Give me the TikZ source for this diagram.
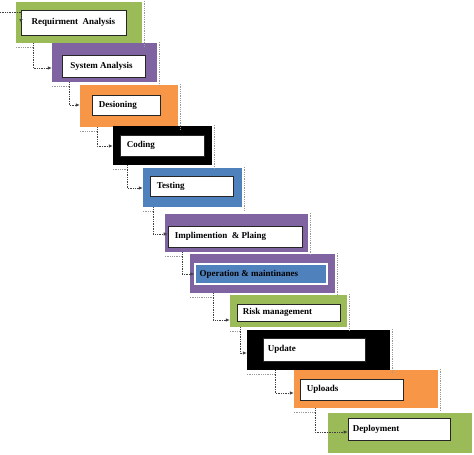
\documentclass[tikz,border=0pt]{standalone}
\usepackage{fontspec}
\setmainfont{Liberation Serif}
\usetikzlibrary{arrows.meta}
\definecolor{cgreen}{HTML}{9BBB59}
\definecolor{cpurple}{HTML}{8064A2}
\definecolor{corange}{HTML}{F79646}
\definecolor{cblue}{HTML}{4F81BD}
\definecolor{cshadow}{HTML}{9A9A9A}
\definecolor{cline}{HTML}{404040}
\tikzset{
  outerbox/.style={rectangle, inner sep=0pt, draw=none},
  innerbox/.style={rectangle, inner sep=0pt, fill=white, draw=black!85, line width=0.6pt},
  bluebox/.style={rectangle, inner sep=0pt, fill=cblue, draw=white, line width=1.2pt},
  lbl/.style={font=\fontsize{9}{10}\selectfont\bfseries, inner sep=0pt, text=black},
  conn/.style={draw=cline, densely dotted, line width=0.7pt, -{Latex[length=4pt,width=3.5pt]}},
  shade/.style={draw=cshadow, densely dotted, line width=0.8pt},
}
\begin{document}
\begin{tikzpicture}[x=1pt,y=-1pt]
\useasboundingbox (0,0) rectangle (474,455);
% outer boxes
\node[outerbox, fill=cgreen,  minimum width=126pt, minimum height=41pt] (o1)  at (79,22.5) {};
\node[outerbox, fill=cpurple, minimum width=105pt, minimum height=39pt] (o2)  at (104.5,62.5) {};
\node[outerbox, fill=corange, minimum width=98pt,  minimum height=42pt] (o3)  at (129,106) {};
\node[outerbox, fill=black,   minimum width=99pt,  minimum height=39pt] (o4)  at (162.5,145.5) {};
\node[outerbox, fill=cblue,   minimum width=99pt,  minimum height=39pt] (o5)  at (192.5,187.5) {};
\node[outerbox, fill=cpurple, minimum width=143pt, minimum height=38pt] (o6)  at (236.5,233) {};
\node[outerbox, fill=cpurple, minimum width=145pt, minimum height=39pt] (o7)  at (262.5,273.5) {};
\node[outerbox, fill=cgreen,  minimum width=117pt, minimum height=32pt] (o8)  at (288.5,311) {};
\node[outerbox, fill=black,   minimum width=143pt, minimum height=40pt] (o9)  at (318.5,350) {};
\node[outerbox, fill=corange, minimum width=144pt, minimum height=38pt] (o10) at (366,389) {};
\node[outerbox, fill=cgreen,  minimum width=144pt, minimum height=40pt] (o11) at (400,433) {};
% shadow lines
\foreach \b/\v in {1/33,2/69,3/97,4/127,5/153,6/182,7/213,8/240,9/275,10/315,11/472}{
  \draw[shade] ([xshift=2pt,yshift=1pt]o\b.north east) -- ([xshift=2pt,yshift=-3pt]o\b.south east);
  \draw[shade] ([yshift=-4pt]o\b.south west) -- ([yshift=-4pt]o\b.south west -| \v,0);
}
% inner boxes
\node[innerbox, minimum width=105pt, minimum height=25pt] (i1)  at (73.5,22.5) {};
\node[innerbox, minimum width=83pt,  minimum height=22pt] (i2)  at (103.5,66) {};
\node[innerbox, minimum width=68pt,  minimum height=20pt] (i3)  at (126,105) {};
\node[innerbox, minimum width=84pt,  minimum height=21pt] (i4)  at (162,145.5) {};
\node[innerbox, minimum width=83pt,  minimum height=20pt] (i5)  at (191.5,186) {};
\node[innerbox, minimum width=134pt, minimum height=21pt] (i6)  at (235,236.5) {};
\node[bluebox,  minimum width=132pt, minimum height=20pt] (i7)  at (261,274) {};
\node[innerbox, minimum width=103pt, minimum height=17pt] (i8)  at (288.5,312.5) {};
\node[innerbox, minimum width=102pt, minimum height=23pt] (i9)  at (314,349.5) {};
\node[innerbox, minimum width=103pt, minimum height=21pt] (i10) at (351.5,389.5) {};
\node[innerbox, minimum width=102pt, minimum height=22pt] (i11) at (399,429) {};
% labels
\node[lbl] (t1) at (i1) {Requirment\ \ Analysis};
\node[lbl] (t2) at ([xshift=-2pt]i2) {System Analysis};
\node[lbl, anchor=west] (t3)  at ([xshift=7pt]i3.west) {Desioning};
\node[lbl, anchor=west] (t4)  at ([xshift=7pt]i4.west) {Coding};
\node[lbl, anchor=west] (t5)  at ([xshift=7pt]i5.west) {Testing};
\node[lbl, anchor=west] (t6)  at ([xshift=7pt]i6.west) {Implimention\ \ \& Plaing};
\node[lbl, anchor=west] (t7)  at ([xshift=5pt]i7.west) {Operation\ \& maintinanes};
\node[lbl, anchor=west] (t8)  at ([xshift=6pt]i8.west) {Risk\ management};
\node[lbl, anchor=west] (t9)  at ([xshift=5pt]i9.west) {Update};
\node[lbl, anchor=west] (t10) at ([xshift=7pt]i10.west) {Uploads};
\node[lbl, anchor=west] (t11) at ([xshift=5pt]i11.west) {Deployment};
% connectors
\coordinate (start) at (0,12);
\coordinate (e1) at (21,23);
\draw[conn] (start) -| (e1);
\draw[conn] (o1.south -| 33,0)  |- (o2.west |- 0,68);
\draw[conn] (o2.south -| 69,0)  |- (o3.west |- 0,105);
\draw[conn] (o3.south -| 97,0)  |- (o4.west |- 0,146);
\draw[conn] (o4.south -| 127,0) |- (o5.west |- 0,188);
\draw[conn] (o5.south -| 153,0) |- (i6.west |- 0,234);
\draw[conn] (o6.south -| 182,0) |- (i7.west |- 0,274);
\draw[conn] (o7.south -| 213,0) |- (o8.west |- 0,320);
\draw[conn] (o8.south -| 240,0) |- (o9.west |- 0,353);
\draw[conn] (o9.south -| 275,0) |- (o10.west |- 0,393);
\draw[conn] (o10.south -| 315,0) |- (i11.west |- 0,432);
\end{tikzpicture}
\end{document}
